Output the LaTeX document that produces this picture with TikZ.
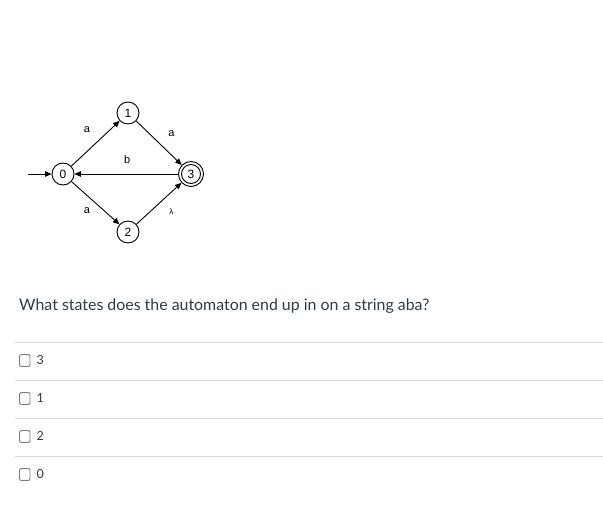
\documentclass[tikz,border=0pt]{standalone}
\usepackage{fontspec}
\setmainfont{Lato}
\newfontfamily\diagfont{Liberation Sans}
\usetikzlibrary{arrows.meta}
\definecolor{inktext}{HTML}{2D3B45}
\definecolor{rulegray}{HTML}{DADADA}
\definecolor{boxgray}{HTML}{7A7A7A}

\begin{document}
\begin{tikzpicture}[x=1pt,y=-1pt,
  state/.style={draw,circle,line width=0.9pt,minimum size=22pt,inner sep=0pt,font=\diagfont\fontsize{12}{13}\selectfont},
  edge/.style={line width=0.9pt,-{Triangle[length=6.5pt,width=5.5pt]}},
  lbl/.style={font=\diagfont\fontsize{11}{12}\selectfont,inner sep=0pt}]
\useasboundingbox (0,0) rectangle (603,508);

% automaton
\node[state] (s0) at (63,174) {0};
\node[state] (s1) at (128,113) {1};
\node[state] (s2) at (128,232) {2};
\node[state,minimum size=25pt] (s3) at (191,174) {3};
\draw[line width=0.9pt] (s3.center) circle (9.5pt);
\coordinate (start) at (28,174);
\draw[edge] (start) -- (s0);
\draw[edge] (s0) -- node[lbl,xshift=-8.5pt,yshift=13.5pt] {a} (s1);
\draw[edge] (s1) -- node[lbl,xshift=12.5pt,yshift=9.5pt] {a} (s3);
\draw[edge] (s3) -- node[lbl,xshift=1pt,yshift=14pt] {b} (s0);
\draw[edge] (s0) -- node[lbl,xshift=-8.5pt,yshift=-8pt] {a} (s2);
\draw[edge] (s2) -- node[lbl,xshift=12.5pt,yshift=-8pt,font=\diagfont\fontsize{8}{9}\selectfont] {λ} (s3);

% question and answers
\node[anchor=base west,inner sep=0pt,text=inktext,font=\fontsize{15.9}{18}\selectfont] (question) at (19,310.5)
  {What states does the automaton end up in on a string aba?};
\foreach \i/\v in {0/3,1/1,2/2,3/0} {
  \draw[rulegray,line width=1.2pt] (14.7,342.3+38*\i) -- (603,342.3+38*\i);
  \draw[boxgray,rounded corners=2pt,line width=0.9pt] (19.5,354.5+38*\i) rectangle (30,366.5+38*\i);
  \node[anchor=base west,inner sep=0pt,text=inktext,font=\fontsize{12.5}{14}\selectfont] (opt\i) at (36.5,364+38*\i) {\v};
}
\end{tikzpicture}
\end{document}
